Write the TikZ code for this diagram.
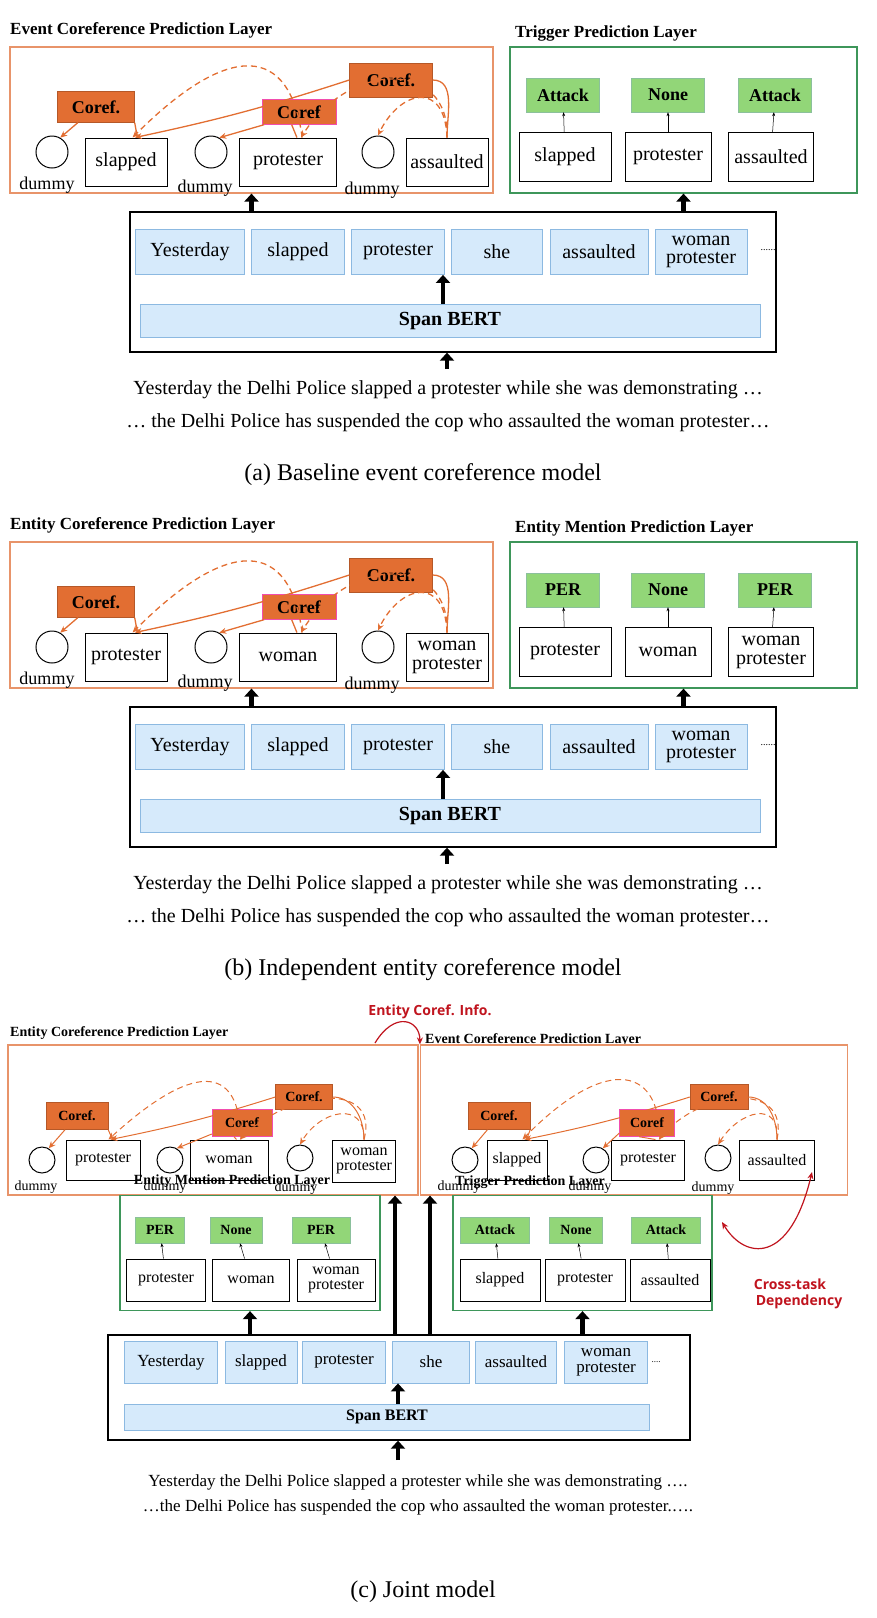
\documentclass[tikz,border=0pt]{standalone}
\usepackage{fontspec}
\setmainfont{Liberation Serif}
\newfontfamily\sansf{Open Sans}
\usetikzlibrary{arrows.meta,calc}
\definecolor{orb}{RGB}{232,148,106}
\definecolor{orf}{RGB}{226,110,50}
\definecolor{grb}{RGB}{62,150,90}
\definecolor{grf}{RGB}{146,214,120}
\definecolor{blf}{RGB}{214,234,251}
\definecolor{blb}{RGB}{140,185,225}
\definecolor{dred}{RGB}{192,20,30}
\tikzset{
 obox/.style={draw=orb,line width=1.2pt},
 gbox/.style={draw=grb,line width=1.2pt},
 mbox/.style={draw=black,line width=1.3pt},
 cor/.style={fill=orf,draw=orf!80!black,line width=0.4pt,font=\bfseries\fontsize{18}{18}\selectfont,inner sep=0pt},
 cor2/.style={cor,draw=magenta!70},
 dum/.style={circle,draw,line width=1pt,inner sep=0pt},
 wrd/.style={draw,line width=1pt,inner sep=0pt,align=center,font=\fontsize{20}{19}\selectfont},
 lab/.style={fill=grf,draw=grb!60,line width=0.4pt,inner sep=0pt,font=\bfseries\fontsize{18}{18}\selectfont},
 tok/.style={fill=blf,draw=blb,line width=0.8pt,inner sep=0pt,align=center,font=\fontsize{20}{18}\selectfont},
 ttl/.style={anchor=west,font=\bfseries\fontsize{17}{17}\selectfont,inner sep=0pt},
 cl/.style={draw=orf,line width=1.3pt},
 ca/.style={cl,-{Stealth[length=7pt,width=6pt]}},
 cd/.style={ca,dashed,dash pattern=on 6pt off 4pt},
 thin/.style={draw,line width=0.5pt,-{Stealth[length=4pt,width=3pt]}},
 big/.style={draw,line width=4.5pt,-{Triangle[length=8pt,width=14pt]}},
 txt/.style={font=\fontsize{20}{20}\selectfont,inner sep=0pt},
 captxt/.style={font=\fontsize{24}{24}\selectfont,inner sep=0pt},
 dl/.style={font=\fontsize{18}{18}\selectfont,inner sep=0pt},
}
% #1 prefix, #2 left title, #3 right title, #4-6 labels, #7-9 words
\newcommand\mypanel[9]{%
 \node[ttl] (#1tl) at (10,30) {#2};
 \node[obox,minimum width=483,minimum height=146] (#1o) at (251.5,120) {};
 \node[dum,minimum size=32] (#1d1) at (52,152) {};
 \node[dum,minimum size=32] (#1d2) at (211,152) {};
 \node[dum,minimum size=32] (#1d3) at (378,152) {};
 \node[dl] (#1n1) at (47,185) {dummy};
 \node[dl] (#1n2) at (205,188) {dummy};
 \node[dl] (#1n3) at (372,190) {dummy};
 \node[wrd,minimum width=82,minimum height=48] (#1w1) at (126,162) {#7};
 \node[wrd,minimum width=97,minimum height=48] (#1w2) at (288,162) {#8};
 \node[wrd,minimum width=82,minimum height=48] (#1w3) at (447,162) {#9};
 \node[cor,minimum width=77,minimum height=31] (#1c1) at (96,107) {Coref.};
 \node[cor2,minimum width=74,minimum height=25] (#1c2) at (299,112) {Coref};
 \node[cor,minimum width=83,minimum height=34] (#1c3) at (391,80) {Coref.};
 \draw[cl] (#1w1.65) -- (#1c1.south east);
 \draw[ca] (#1c1) -- (#1d1.60);
 \draw[cl] (#1w2.70) -- (#1c2.240);
 \draw[ca] (#1c2.200) -- (#1d2.60);
 \draw[ca] (#1c3.west) to[bend left=3] (#1w1.70);
 \draw[cl] (#1c3.east) to[out=0,in=90] (#1w3.north);
 \draw[cd] (#1w2.60) .. controls (290,45) and (230,40) .. (#1w1.75);
 \draw[cd] (#1w3.north) .. controls (450,60) and (350,60) .. (#1w2.62);
 \draw[cd] (#1w3.north) .. controls (445,80) and (400,90) .. (#1d3.north);
 \node[ttl] (#1tr) at (515,33) {#3};
 \node[gbox,minimum width=347,minimum height=146] (#1g) at (683.5,120) {};
 \node[lab,minimum width=73,minimum height=34] (#1l1) at (563,95) {#4};
 \node[lab,minimum width=73,minimum height=34] (#1l2) at (668,95) {#5};
 \node[lab,minimum width=73,minimum height=34] (#1l3) at (775,95) {#6};
 \node[wrd,minimum width=92,minimum height=49] (#1v1) at (565,157) {#7};
 \node[wrd,minimum width=86,minimum height=49] (#1v2) at (668,157) {#8};
 \node[wrd,minimum width=85,minimum height=49] (#1v3) at (771,157) {#9};
 \draw[thin] (#1v1) -- (#1l1); \draw[thin] (#1v2) -- (#1l2); \draw[thin] (#1v3) -- (#1l3);
 \node[mbox,minimum width=646,minimum height=140] (#1m) at (453,282) {};
 \node[tok,minimum width=109,minimum height=45] (#1t1) at (190,252) {Yesterday};
 \node[tok,minimum width=93,minimum height=45] (#1t2) at (298,252) {slapped};
 \node[tok,minimum width=93,minimum height=45] (#1t3) at (398,252) {protester};
 \node[tok,minimum width=91,minimum height=45] (#1t4) at (497,252) {she};
 \node[tok,minimum width=98,minimum height=45] (#1t5) at (599,252) {assaulted};
 \node[tok,minimum width=92,minimum height=45] (#1t6) at (701,252) {woman\\protester};
 \node[font=\fontsize{10}{10}\selectfont,inner sep=0pt] (#1dots) at (768,250) {......};
 \node[tok,minimum width=620,minimum height=33,font=\bfseries\fontsize{20}{20}\selectfont] (#1sb) at (450,321) {Span BERT};
 \draw[big] (#1m.north -| #1o.south) -- (#1o.south);
 \draw[big] (#1m.north -| #1g.south) -- (#1g.south);
 \draw[big] ($(#1sb.north)+(-7,0)$) -- ($(#1t4.south)+(-54,0)$);
 \coordinate (#1in) at (447,369);
 \draw[big] (#1in) -- (#1in |- #1m.south);
 \node[txt] (#1x1) at (448,390) {Yesterday the Delhi Police slapped a protester while she was demonstrating …};
 \node[txt] (#1x2) at (448,423) {… the Delhi Police has suspended the cop who assaulted the woman protester…};
}
\begin{document}
\begin{tikzpicture}[x=1pt,y=-1pt]
\useasboundingbox (0,0) rectangle (877,1618);
\mypanel{a}{Event Coreference Prediction Layer}{Trigger Prediction Layer}{Attack}{None}{Attack}{slapped}{protester}{assaulted}
\node[captxt] (capa) at (423,475) {(a) Baseline event coreference model};
\begin{scope}[yshift=-495pt]
\mypanel{b}{Entity Coreference Prediction Layer}{Entity Mention Prediction Layer}{PER}{None}{PER}{protester}{woman}{woman\\protester}
\end{scope}
\node[captxt] (capb) at (423,970) {(b) Independent entity coreference model};
% ---------- panel c ----------
\begin{scope}[cor/.append style={font=\bfseries\fontsize{14}{14}\selectfont},
  wrd/.append style={font=\fontsize{16}{15}\selectfont},
  lab/.append style={font=\bfseries\fontsize{14}{14}\selectfont},
  tok/.append style={font=\fontsize{17}{16}\selectfont},
  dl/.append style={font=\fontsize{14}{14}\selectfont},
  ttl/.append style={font=\bfseries\fontsize{14}{14}\selectfont},
  cl/.append style={line width=1pt}]
\node[ttl] (ctl1) at (10,1033) {Entity Coreference Prediction Layer};
\node[obox,minimum width=410,minimum height=150] (co1) at (213,1120) {};
\node[dum,minimum size=26] (cd1) at (42,1160) {};
\node[dum,minimum size=26] (cd2) at (170,1160) {};
\node[dum,minimum size=26] (cd3) at (300,1158) {};
\node[dl] (cn1) at (36,1187) {dummy};
\node[dl] (cn2) at (165,1187) {dummy};
\node[dl] (cn3) at (296,1188) {dummy};
\node[wrd,minimum width=74,minimum height=40] (cw1) at (103,1160) {protester};
\node[wrd,minimum width=78,minimum height=40] (cw2) at (229,1160) {woman};
\node[wrd,minimum width=63,minimum height=42] (cw3) at (364,1161) {woman\\protester};
\node[cor,minimum width=62,minimum height=27] (cc1) at (77,1116) {Coref.};
\node[cor2,minimum width=60,minimum height=27] (cc2) at (242,1123) {Coref};
\node[cor,minimum width=57,minimum height=25] (cc3) at (304,1097) {Coref.};
\draw[cl] (cw1.65) -- (cc1.south east);
\draw[ca] (cc1) -- (cd1.60);
\draw[cl] (cw2.70) -- (cc2.240);
\draw[ca] (cc2.200) -- (cd2.60);
\draw[ca] (cc3.west) to[bend left=3] (cw1.70);
\draw[cl] (cc3.east) to[out=0,in=90] (cw3.north);
\draw[cd] (cw2.60) .. controls (240,1060) and (190,1065) .. (cw1.75);
\draw[cd] (cw3.north) .. controls (380,1080) and (290,1090) .. (cw2.62);
\draw[cd] (cw3.north) .. controls (365,1100) and (320,1110) .. (cd3.north);
\node[ttl] (ctl2) at (425,1040) {Event Coreference Prediction Layer};
\node[obox,minimum width=427,minimum height=150] (co2) at (634,1120) {};
\node[dum,minimum size=26] (ce1) at (465,1160) {};
\node[dum,minimum size=26] (ce2) at (596,1160) {};
\node[dum,minimum size=26] (ce3) at (718,1158) {};
\node[dl] (cm1) at (459,1187) {dummy};
\node[dl] (cm2) at (590,1187) {dummy};
\node[dl] (cm3) at (713,1188) {dummy};
\node[wrd,minimum width=60,minimum height=40] (cx1) at (517,1160) {slapped};
\node[wrd,minimum width=73,minimum height=40] (cx2) at (648,1160) {protester};
\node[wrd,minimum width=75,minimum height=40] (cx3) at (777,1160) {assaulted};
\node[cor,minimum width=62,minimum height=27] (ck1) at (499,1116) {Coref.};
\node[cor2,minimum width=55,minimum height=27] (ck2) at (647,1123) {Coref};
\node[cor,minimum width=58,minimum height=25] (ck3) at (719,1097) {Coref.};
\draw[cl] (cx1.65) -- (ck1.south east);
\draw[ca] (ck1) -- (ce1.60);
\draw[cl] (cx2.70) -- (ck2.240);
\draw[ca] (ck2.200) -- (ce2.60);
\draw[ca] (ck3.west) to[bend left=3] (cx1.70);
\draw[cl] (ck3.east) to[out=0,in=90] (cx3.north);
\draw[cd] (cx2.60) .. controls (660,1060) and (600,1060) .. (cx1.75);
\draw[cd] (cx3.north) .. controls (790,1080) and (700,1090) .. (cx2.62);
\draw[cd] (cx3.north) .. controls (780,1100) and (740,1110) .. (ce3.north);
\node[font=\sansf\bfseries\fontsize{14}{14}\selectfont,text=dred,inner sep=0pt] (info) at (430,1012) {Entity Coref. Info.};
\coordinate (ia) at (375,1043);
\draw[dred,line width=1.2pt,-{Stealth[length=7pt,width=6pt]}] (ia) .. controls (395,1010) and (420,1020) .. (co2.north west);
% mention / trigger layers
\node[ttl,anchor=center] (ctl3) at (232,1181) {Entity Mention Prediction Layer};
\node[gbox,minimum width=260,minimum height=115] (cg1) at (250,1253) {};
\node[lab,minimum width=49,minimum height=26] (cl1) at (160,1230) {PER};
\node[lab,minimum width=52,minimum height=26] (cl2) at (236,1230) {None};
\node[lab,minimum width=58,minimum height=26] (cl3) at (321,1230) {PER};
\node[wrd,minimum width=79,minimum height=42] (cv1) at (166,1280) {protester};
\node[wrd,minimum width=77,minimum height=42] (cv2) at (251,1280) {woman};
\node[wrd,minimum width=78,minimum height=42] (cv3) at (336,1280) {woman\\protester};
\draw[thin] (cv1) -- (cl1); \draw[thin] (cv2) -- (cl2); \draw[thin] (cv3) -- (cl3);
\node[ttl] (ctl4) at (455,1182) {Trigger Prediction Layer};
\node[gbox,minimum width=259,minimum height=115] (cg2) at (582.5,1253) {};
\node[lab,minimum width=69,minimum height=26] (cl4) at (495,1230) {Attack};
\node[lab,minimum width=53,minimum height=26] (cl5) at (576,1230) {None};
\node[lab,minimum width=69,minimum height=26] (cl6) at (666,1230) {Attack};
\node[wrd,minimum width=80,minimum height=42] (cv4) at (500,1280) {slapped};
\node[wrd,minimum width=80,minimum height=42] (cv5) at (585,1280) {protester};
\node[wrd,minimum width=80,minimum height=42] (cv6) at (670,1280) {assaulted};
\draw[thin] (cv4) -- (cl4); \draw[thin] (cv5) -- (cl5); \draw[thin] (cv6) -- (cl6);
\node[font=\sansf\bfseries\fontsize{14}{16}\selectfont,text=dred,align=center,inner sep=0pt] (cross) at (790,1294) {Cross-task\\\hspace*{18pt}Dependency};
\coordinate (cxa) at (722,1222);
\coordinate (cxb) at (812,1172);
\draw[dred,line width=1.2pt,{Stealth[length=7pt,width=6pt]}-{Stealth[length=7pt,width=6pt]}] (cxa) .. controls (745,1260) and (790,1265) .. (cxb);
% main box c
\node[mbox,minimum width=582,minimum height=105] (cmb) at (399,1387.5) {};
\node[tok,minimum width=93,minimum height=42] (ct1) at (171,1362) {Yesterday};
\node[tok,minimum width=72,minimum height=42] (ct2) at (261,1362) {slapped};
\node[tok,minimum width=83,minimum height=42] (ct3) at (344,1362) {protester};
\node[tok,minimum width=77,minimum height=42] (ct4) at (431,1362) {she};
\node[tok,minimum width=81,minimum height=42] (ct5) at (516,1362) {assaulted};
\node[tok,minimum width=83,minimum height=42] (ct6) at (606,1362) {woman\\protester};
\node[font=\fontsize{9}{9}\selectfont,inner sep=0pt] (cdots) at (656,1362) {....};
\node[tok,minimum width=525,minimum height=26,font=\bfseries\fontsize{16}{16}\selectfont] (csb) at (387,1417) {Span BERT};
\draw[big] (cmb.north -| cg1.south) -- (cg1.south);
\draw[big] (cmb.north -| cg2.south) -- (cg2.south);
\coordinate (up1) at (395,1335);
\coordinate (up2) at (430,1335);
\draw[big] (up1) -- (up1 |- co1.south);
\draw[big] (up2) -- (up2 |- co2.south);
\draw[big] ($(csb.north)+(11,0)$) -- ($(ct4.south)+(-33,0)$);
\coordinate (cin) at (398,1460);
\draw[big] (cin) -- (cin |- cmb.south);
\node[txt,font=\fontsize{17}{17}\selectfont] (cx1t) at (418,1482) {Yesterday the Delhi Police slapped a protester while she was demonstrating ….};
\node[txt,font=\fontsize{17}{17}\selectfont] (cx2t) at (418,1507) {…the Delhi Police has suspended the cop who assaulted the woman protester.….};
\node[captxt] (capc) at (423,1592) {(c) Joint model};
\end{scope}
\end{tikzpicture}
\end{document}
